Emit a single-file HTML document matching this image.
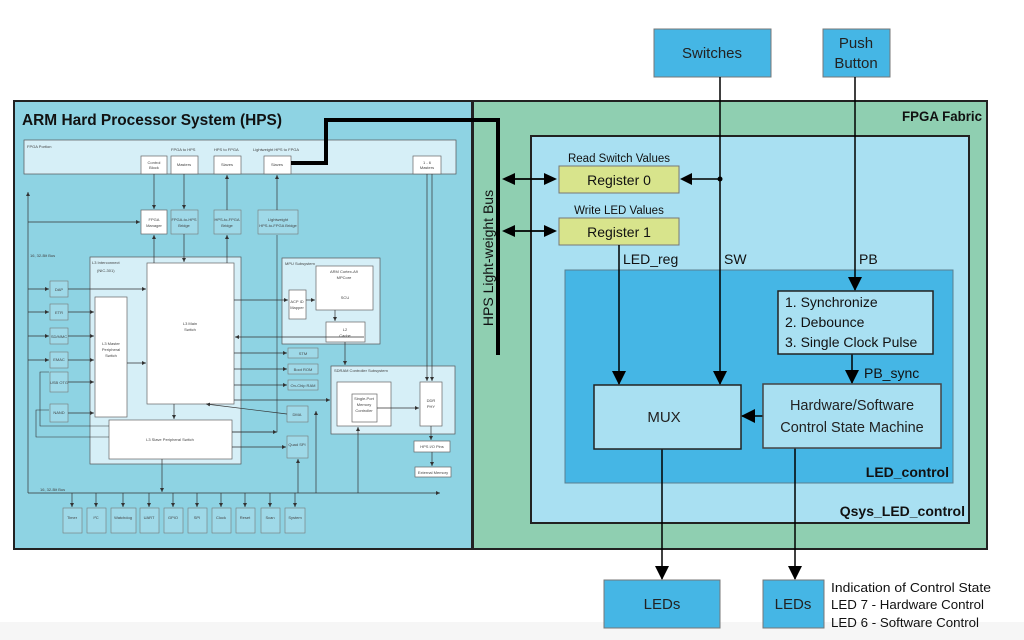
<!DOCTYPE html>
<html><head><meta charset="utf-8"><style>
html,body{margin:0;padding:0;background:#fff;}
svg{display:block;font-family:"Liberation Sans",sans-serif;}
.s{font-size:4px;fill:#444;}
</style></head><body>
<svg width="1024" height="640" viewBox="0 0 1024 640" xmlns="http://www.w3.org/2000/svg">
<defs>
<marker id="b" markerWidth="14" markerHeight="14" refX="13" refY="7" orient="auto-start-reverse" markerUnits="userSpaceOnUse"><path d="M0,0 L14,7 L0,14 z" fill="#000"/></marker>
<marker id="sm" markerWidth="4" markerHeight="4" refX="4" refY="2" orient="auto-start-reverse" markerUnits="userSpaceOnUse"><path d="M0,0 L4,2 L0,4 z" fill="#333"/></marker>
</defs>
<rect x="0" y="0" width="1024" height="640" fill="#fff"/>
<rect x="0" y="622" width="1024" height="18" fill="#f6f6f6"/>

<!-- HPS -->
<rect x="14" y="101" width="458" height="448" fill="#8ed3e3" stroke="#222" stroke-width="2"/>
<text x="22" y="125" font-size="15.5" font-weight="bold" fill="#111" textLength="260" lengthAdjust="spacingAndGlyphs">ARM Hard Processor System (HPS)</text>

<!-- FPGA Fabric -->
<rect x="473" y="101" width="514" height="448" fill="#8fcfb1" stroke="#222" stroke-width="2"/>
<text x="982" y="121" font-size="14" font-weight="bold" text-anchor="end" fill="#111" textLength="80" lengthAdjust="spacingAndGlyphs">FPGA Fabric</text>
<rect x="531" y="136" width="438" height="387" fill="#a9e0f2" stroke="#222" stroke-width="2"/>
<text x="965" y="516" font-size="14" font-weight="bold" text-anchor="end" fill="#111">Qsys_LED_control</text>
<rect x="565" y="270" width="388" height="213" fill="#45b6e5" stroke="#5a7f90" stroke-width="1"/>
<text x="949" y="477" font-size="14" font-weight="bold" text-anchor="end" fill="#111">LED_control</text>

<!-- HPS detail -->
<g stroke="#555" stroke-width="0.7" fill="#d6eff7">
<rect x="24" y="140" width="432" height="34"/>
<rect x="90" y="257" width="151" height="207"/>
<rect x="282" y="258" width="98" height="86"/>
<rect x="331" y="366" width="124" height="68"/>
</g>
<text class="s" x="27" y="148">FPGA Portion</text>
<text class="s" x="171" y="151">FPGA to HPS</text>
<text class="s" x="214" y="151">HPS to FPGA</text>
<text class="s" x="253" y="151">Lightweight HPS to FPGA</text>
<text class="s" x="92" y="264">L3 Interconnect</text>
<text class="s" x="97" y="272">(NIC-301)</text>
<text class="s" x="285" y="265">MPU Subsystem</text>
<text class="s" x="334" y="372">SDRAM Controller Subsystem</text>
<g stroke="#666" stroke-width="0.7" fill="#fff">
<rect x="141" y="156" width="26" height="18"/><rect x="171" y="156" width="27" height="18"/>
<rect x="214" y="156" width="27" height="18"/><rect x="264" y="156" width="27" height="18"/>
<rect x="413" y="156" width="28" height="18"/>
<rect x="141" y="210" width="26" height="24"/>
<rect x="147" y="263" width="87" height="141"/>
<rect x="95" y="297" width="32" height="120"/>
<rect x="109" y="420" width="123" height="39"/>
<rect x="316" y="266" width="57" height="44"/>
<rect x="289" y="290" width="17" height="29"/>
<rect x="326" y="322" width="39" height="20"/>
<rect x="337" y="382" width="54" height="44"/>
<rect x="352" y="394" width="25" height="28"/>
<rect x="420" y="382" width="22" height="44"/>
<rect x="414" y="441" width="36" height="11"/>
<rect x="415" y="467" width="36" height="10"/>
</g>
<g stroke="#777" stroke-width="0.6" fill="#9fd9e8">
<rect x="171" y="210" width="27" height="24"/><rect x="214" y="210" width="27" height="24"/><rect x="258" y="210" width="40" height="24"/>
<rect x="50" y="281" width="18" height="16"/><rect x="50" y="304" width="18" height="16"/><rect x="50" y="328" width="18" height="16"/>
<rect x="50" y="352" width="18" height="16"/><rect x="50" y="372" width="18" height="20"/><rect x="50" y="404" width="18" height="18"/>
<rect x="288" y="348" width="30" height="10"/><rect x="288" y="364" width="30" height="10"/><rect x="288" y="380" width="30" height="10"/>
<rect x="287" y="406" width="21" height="16"/><rect x="287" y="436" width="21" height="22"/>
<rect x="63" y="508" width="19" height="25"/><rect x="87" y="508" width="19" height="25"/><rect x="111" y="508" width="25" height="25"/>
<rect x="140" y="508" width="19" height="25"/><rect x="164" y="508" width="19" height="25"/><rect x="188" y="508" width="19" height="25"/>
<rect x="212" y="508" width="19" height="25"/><rect x="236" y="508" width="19" height="25"/><rect x="261" y="508" width="19" height="25"/><rect x="285" y="508" width="20" height="25"/>
</g>
<g class="s" text-anchor="middle">
<text x="154" y="164">Control</text><text x="154" y="169">Block</text><text x="184" y="166">Masters</text><text x="227" y="166">Slaves</text><text x="277" y="166">Slaves</text>
<text x="427" y="164">1 - 6</text><text x="427" y="169">Masters</text>
<text x="154" y="221">FPGA</text><text x="154" y="227">Manager</text>
<text x="184" y="221">FPGA-to-HPS</text><text x="184" y="227">Bridge</text><text x="227" y="221">HPS-to-FPGA</text><text x="227" y="227">Bridge</text>
<text x="278" y="221">Lightweight</text><text x="278" y="227">HPS-to-FPGA Bridge</text>
<text x="190" y="325">L3 Main</text><text x="190" y="331">Switch</text>
<text x="111" y="345">L3 Master</text><text x="111" y="351">Peripheral</text><text x="111" y="357">Switch</text>
<text x="170" y="441">L3 Slave Peripheral Switch</text>
<text x="344" y="273">ARM Cortex-A9</text><text x="344" y="279">MPCore</text><text x="345" y="299">SCU</text>
<text x="297" y="303">ACP ID</text><text x="297" y="309">Mapper</text>
<text x="345" y="331">L2</text><text x="345" y="337">Cache</text>
<text x="364" y="400">Single-Port</text><text x="364" y="406">Memory</text><text x="364" y="412">Controller</text>
<text x="431" y="402">DDR</text><text x="431" y="408">PHY</text>
<text x="432" y="448">HPS I/O Pins</text><text x="433" y="474">External Memory</text>
<text x="59" y="291">DAP</text><text x="59" y="314">ETR</text><text x="59" y="338">SD/MMC</text><text x="59" y="361">EMAC</text><text x="59" y="384">USB OTG</text><text x="59" y="414">NAND</text>
<text x="303" y="355">STM</text><text x="303" y="371">Boot ROM</text><text x="303" y="387">On-Chip RAM</text><text x="297" y="416">DMA</text><text x="297" y="446">Quad SPI</text>
<text x="72" y="519">Timer</text><text x="96" y="519">I²C</text><text x="123" y="519">Watchdog</text><text x="149" y="519">UART</text><text x="173" y="519">GPIO</text><text x="197" y="519">SPI</text><text x="221" y="519">Clock</text><text x="245" y="519">Reset</text><text x="270" y="519">Scan</text><text x="295" y="519">System</text>
</g>
<g stroke="#333" stroke-width="0.7" fill="none" marker-end="url(#sm)">
<line x1="28" y1="493" x2="440" y2="493"/>
<line x1="28" y1="493" x2="28" y2="192"/>
<line x1="28" y1="222" x2="140" y2="222"/>
<line x1="28" y1="289" x2="49" y2="289"/><line x1="68" y1="289" x2="146" y2="289"/>
<line x1="28" y1="312" x2="49" y2="312"/><line x1="68" y1="312" x2="94" y2="312"/>
<line x1="28" y1="336" x2="49" y2="336"/><line x1="68" y1="336" x2="94" y2="336"/>
<line x1="28" y1="360" x2="49" y2="360"/><line x1="68" y1="360" x2="94" y2="360"/>
<line x1="68" y1="382" x2="94" y2="382"/><line x1="68" y1="413" x2="94" y2="413"/>
<line x1="127" y1="363" x2="146" y2="363"/>
<line x1="154" y1="174" x2="154" y2="209"/><line x1="184" y1="174" x2="184" y2="209"/>
<line x1="227" y1="210" x2="227" y2="175"/><line x1="277" y1="210" x2="277" y2="175"/>
<line x1="154" y1="263" x2="154" y2="235"/><line x1="184" y1="234" x2="184" y2="262"/><line x1="227" y1="263" x2="227" y2="235"/>
<line x1="234" y1="300" x2="288" y2="300"/><line x1="364" y1="337" x2="235" y2="337"/>
<line x1="234" y1="353" x2="287" y2="353"/><line x1="234" y1="369" x2="287" y2="369"/><line x1="234" y1="385" x2="287" y2="385"/><line x1="234" y1="400" x2="330" y2="400"/>
<line x1="174" y1="404" x2="174" y2="419"/><line x1="287" y1="414" x2="206" y2="404"/>
<line x1="232" y1="447" x2="286" y2="447"/>
<line x1="306" y1="300" x2="315" y2="300"/><line x1="335" y1="310" x2="335" y2="321"/><line x1="345" y1="342" x2="345" y2="365"/>
<line x1="427" y1="174" x2="427" y2="381"/><line x1="432" y1="174" x2="432" y2="381"/>
<line x1="377" y1="408" x2="419" y2="408"/><line x1="431" y1="426" x2="431" y2="440"/><line x1="432" y1="452" x2="432" y2="466"/>
<line x1="162" y1="459" x2="162" y2="492"/>
<line x1="72" y1="493" x2="72" y2="507"/><line x1="96" y1="493" x2="96" y2="507"/><line x1="123" y1="493" x2="123" y2="507"/><line x1="149" y1="493" x2="149" y2="507"/><line x1="173" y1="493" x2="173" y2="507"/><line x1="197" y1="493" x2="197" y2="507"/><line x1="221" y1="493" x2="221" y2="507"/><line x1="245" y1="493" x2="245" y2="507"/><line x1="270" y1="493" x2="270" y2="507"/><line x1="295" y1="493" x2="295" y2="507"/>
<line x1="298" y1="493" x2="298" y2="459"/><line x1="316" y1="493" x2="316" y2="411"/><line x1="358" y1="493" x2="358" y2="427"/>
<line x1="232" y1="432" x2="277" y2="432"/>
</g>
<polyline points="109,426 40,426 40,372 49,372" fill="none" stroke="#333" stroke-width="0.6"/>
<polyline points="109,437 36,437 36,410 49,410" fill="none" stroke="#333" stroke-width="0.6"/>
<polyline points="232,432 277,432 277,235" fill="none" stroke="#333" stroke-width="0.6"/>
<text class="s" x="30" y="257">16, 32-Bit Bus</text><text class="s" x="40" y="491">16, 32-Bit Bus</text>

<!-- HPS Light-weight bus -->
<polyline points="291,163 326,163 326,120 498,120 498,355" fill="none" stroke="#000" stroke-width="4"/>
<text transform="translate(493,258) rotate(-90)" font-size="14" text-anchor="middle" fill="#111">HPS Light-weight Bus</text>

<!-- external boxes -->
<rect x="654" y="29" width="117" height="48" fill="#45b6e5" stroke="#777"/>
<text x="712" y="58" font-size="15" text-anchor="middle" fill="#222">Switches</text>
<rect x="823" y="29" width="67" height="48" fill="#45b6e5" stroke="#777"/>
<text x="856" y="48" font-size="15" text-anchor="middle" fill="#222">Push</text>
<text x="856" y="68" font-size="15" text-anchor="middle" fill="#222">Button</text>

<!-- registers -->
<text x="619" y="162" font-size="11.5" text-anchor="middle" fill="#111">Read Switch Values</text>
<rect x="559" y="166" width="120" height="27" fill="#d8e48c" stroke="#777"/>
<text x="619" y="185" font-size="14" text-anchor="middle" fill="#111">Register 0</text>
<text x="619" y="214" font-size="11.5" text-anchor="middle" fill="#111">Write LED Values</text>
<rect x="559" y="218" width="120" height="27" fill="#d8e48c" stroke="#777"/>
<text x="619" y="237" font-size="14" text-anchor="middle" fill="#111">Register 1</text>

<g stroke="#000" stroke-width="1.8" fill="none">
<line x1="514" y1="179" x2="545" y2="179"/>
<line x1="514" y1="231" x2="545" y2="231"/>
</g>
<path d="M502,179 L515,173 L515,185 z M557,179 L544,173 L544,185 z M502,231 L515,225 L515,237 z M557,231 L544,225 L544,237 z M680,179 L692,173 L692,185 z" fill="#000"/>
<line x1="692" y1="179" x2="720" y2="179" stroke="#000" stroke-width="1.5"/>
<circle cx="720" cy="179" r="2.5" fill="#000"/>

<g stroke="#000" stroke-width="1.5" fill="none" marker-end="url(#b)">
<line x1="720" y1="77" x2="720" y2="384"/>
<line x1="855" y1="77" x2="855" y2="290"/>
<line x1="619" y1="245" x2="619" y2="384"/>
<line x1="852" y1="354" x2="852" y2="383"/>
<line x1="763" y1="416" x2="742" y2="416"/>
<line x1="662" y1="449" x2="662" y2="579"/>
<line x1="795" y1="448" x2="795" y2="579"/>
</g>
<text x="623" y="264" font-size="14" fill="#111">LED_reg</text>
<text x="724" y="264" font-size="14" fill="#111">SW</text>
<text x="859" y="264" font-size="14" fill="#111">PB</text>

<rect x="778" y="291" width="155" height="63" fill="#a9e0f2" stroke="#222" stroke-width="1.5"/>
<text x="785" y="307" font-size="14" fill="#111">1.  Synchronize</text>
<text x="785" y="327" font-size="14" fill="#111">2.  Debounce</text>
<text x="785" y="347" font-size="14" fill="#111">3.  Single Clock Pulse</text>
<text x="864" y="378" font-size="14" fill="#111">PB_sync</text>

<rect x="594" y="385" width="147" height="64" fill="#a9e0f2" stroke="#222" stroke-width="1.5"/>
<text x="664" y="422" font-size="15" text-anchor="middle" fill="#222">MUX</text>
<rect x="763" y="384" width="178" height="64" fill="#a9e0f2" stroke="#444" stroke-width="1.5"/>
<text x="852" y="410" font-size="14.5" text-anchor="middle" fill="#222">Hardware/Software</text>
<text x="852" y="432" font-size="14.5" text-anchor="middle" fill="#222">Control State Machine</text>

<rect x="604" y="580" width="116" height="48" fill="#45b6e5" stroke="#777"/>
<text x="662" y="609" font-size="15" text-anchor="middle" fill="#222">LEDs</text>
<rect x="763" y="580" width="61" height="48" fill="#45b6e5" stroke="#777"/>
<text x="793" y="609" font-size="15" text-anchor="middle" fill="#222">LEDs</text>
<text x="831" y="592" font-size="12.5" fill="#111" textLength="160" lengthAdjust="spacingAndGlyphs">Indication of Control State</text>
<text x="831" y="609" font-size="12.5" fill="#111" textLength="153" lengthAdjust="spacingAndGlyphs">LED 7 - Hardware Control</text>
<text x="831" y="627" font-size="12.5" fill="#111" textLength="148" lengthAdjust="spacingAndGlyphs">LED 6 - Software Control</text>
</svg>
</body></html>
